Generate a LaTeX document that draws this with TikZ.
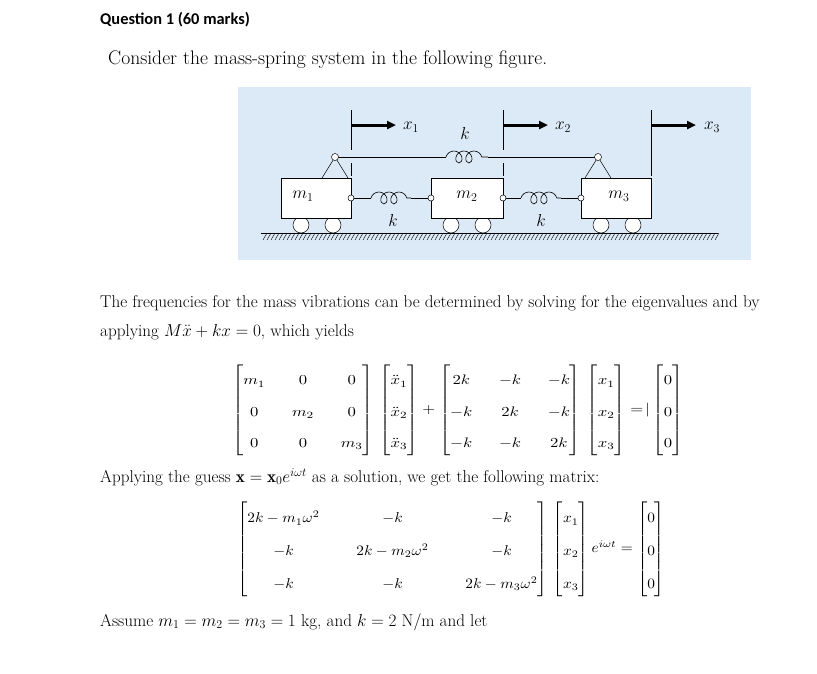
\documentclass[tikz,border=0pt]{standalone}
\usepackage{amsmath,graphicx}
\usepackage{fontspec}
\newfontfamily\calibrifont{Carlito}
\usetikzlibrary{decorations.pathmorphing,arrows.meta}
\definecolor{bgblue}{HTML}{DCEAF7}
\begin{document}
\begin{tikzpicture}[x=1pt,y=-1pt,
  massbox/.style={draw,fill=white,line width=0.6pt},
  pin/.style={draw,fill=white,line width=0.5pt},
  coilsp/.style={decorate,decoration={coil,aspect=0.9,segment length=10pt,amplitude=6pt,pre length=0pt,post length=0pt}},
  disp/.style={-{Triangle[length=9pt,width=8pt]},line width=3pt},
  lbl/.style={font=\LARGE},
  bodytxt/.style={anchor=west,inner sep=0pt,font=\fontsize{17.1}{20}\selectfont}]
\useasboundingbox (0,0) rectangle (817,673);
\node[anchor=west,inner sep=0pt,font=\calibrifont\bfseries\fontsize{16.4}{19}\selectfont] (title) at (100,20) {Question 1 (60 marks)};
\node[bodytxt,font=\fontsize{19.6}{22}\selectfont] (intro) at (108,60) {Consider the mass-spring system in the following figure.};
% figure
\fill[bgblue] (238,87) rectangle (751,260);
\draw[line width=0.6pt] (261,233) -- (718,233);
\foreach \i in {0,...,113} {\draw[line width=0.4pt] ({263+4*\i},240) -- ({267+4*\i},233);}
\foreach \c in {301,333,451,483,601,633} {\draw[pin] (\c,225) circle (8);}
\node[massbox,minimum width=70pt,minimum height=40pt,anchor=north west,inner sep=0pt] (m1) at (281,178) {};
\node[massbox,minimum width=72pt,minimum height=40pt,anchor=north west,inner sep=0pt] (m2) at (431,178) {};
\node[massbox,minimum width=70pt,minimum height=40pt,anchor=north west,inner sep=0pt] (m3) at (581,178) {};
\node[lbl] at (303,196) {$m_1$};
\node[lbl] at (467,196) {$m_2$};
\node[lbl] at (619,196) {$m_3$};
% middle springs
\draw[line width=0.6pt] (351,198) -- (371,198);
\draw[line width=0.6pt,coilsp] (371,198) -- (411,198);
\draw[line width=0.6pt] (411,198) -- (431,198);
\draw[line width=0.6pt] (503,198) -- (521,198);
\draw[line width=0.6pt,coilsp] (521,198) -- (561,198);
\draw[line width=0.6pt] (561,198) -- (581,198);
\foreach \p in {351,431,503,581} {\draw[pin] (\p,198) circle (3);}
% top spring
\draw[line width=0.5pt] (322,178) -- (335,157) -- (348,178);
\draw[line width=0.5pt] (585,178) -- (598,157) -- (611,178);
\draw[line width=0.6pt] (335,157) -- (446,157);
\draw[line width=0.6pt,coilsp] (446,157) -- (488,157);
\draw[line width=0.6pt] (488,157) -- (598,157);
\draw[pin] (335,157) circle (3.5);
\draw[pin] (598,157) circle (3.5);
% k labels
\node[lbl] at (465,133) {$k$};
\node[lbl] at (393,220) {$k$};
\node[lbl] at (541,220) {$k$};
% displacement markers
\draw[line width=0.6pt] (351,110) -- (351,150) (351,163) -- (351,176);
\draw[line width=0.6pt] (503,110) -- (503,150) (503,163) -- (503,176);
\draw[line width=0.6pt] (651,110) -- (651,176);
\draw[disp] (352,125) -- (396,125);
\draw[disp] (504,125) -- (548,125);
\draw[disp] (652,125) -- (696,125);
\node[lbl] at (411,127) {$x_1$};
\node[lbl] at (563,127) {$x_2$};
\node[lbl] at (712,127) {$x_3$};
% text
\node[bodytxt] (t1) at (100,303) {The frequencies for the mass vibrations can be determined by solving for the eigenvalues and by};
\node[bodytxt] (t2) at (100,332) {applying $M\ddot{x}+kx=0$, which yields};
\node[anchor=west,inner sep=0pt] (eq1) at (232,410) {\resizebox*{451pt}{94pt}{$\renewcommand\arraystretch{1.9}\setlength\arraycolsep{8pt}
 \begin{bmatrix} m_1 & 0 & 0\\ 0 & m_2 & 0\\ 0 & 0 & m_3\end{bmatrix}\,
 \begin{bmatrix} \ddot{x}_1\\ \ddot{x}_2\\ \ddot{x}_3\end{bmatrix} +
 \begin{bmatrix} 2k & -k & -k\\ -k & 2k & -k\\ -k & -k & 2k\end{bmatrix}\,
 \begin{bmatrix} x_1\\ x_2\\ x_3\end{bmatrix} =\!|
 \begin{bmatrix} 0\\ 0\\ 0\end{bmatrix}$}};
\node[bodytxt] (t3) at (100,477) {Applying the guess $\mathbf{x}=\mathbf{x}_0e^{i\omega t}$ as a solution, we get the following matrix:};
\node[anchor=west,inner sep=0pt] (eq2) at (237,549) {\resizebox*{428pt}{98pt}{$\renewcommand\arraystretch{1.9}\setlength\arraycolsep{12pt}
 \begin{bmatrix} 2k-m_1\omega^2 & -k & -k\\ -k & 2k-m_2\omega^2 & -k\\ -k & -k & 2k-m_3\omega^2\end{bmatrix}\,
 \begin{bmatrix} x_1\\ x_2\\ x_3\end{bmatrix} e^{i\omega t} =
 \begin{bmatrix} 0\\ 0\\ 0\end{bmatrix}$}};
\node[bodytxt] (t4) at (100,622) {Assume $m_1=m_2=m_3=1$ kg, and $k=2$ N/m and let};
\end{tikzpicture}
\end{document}
